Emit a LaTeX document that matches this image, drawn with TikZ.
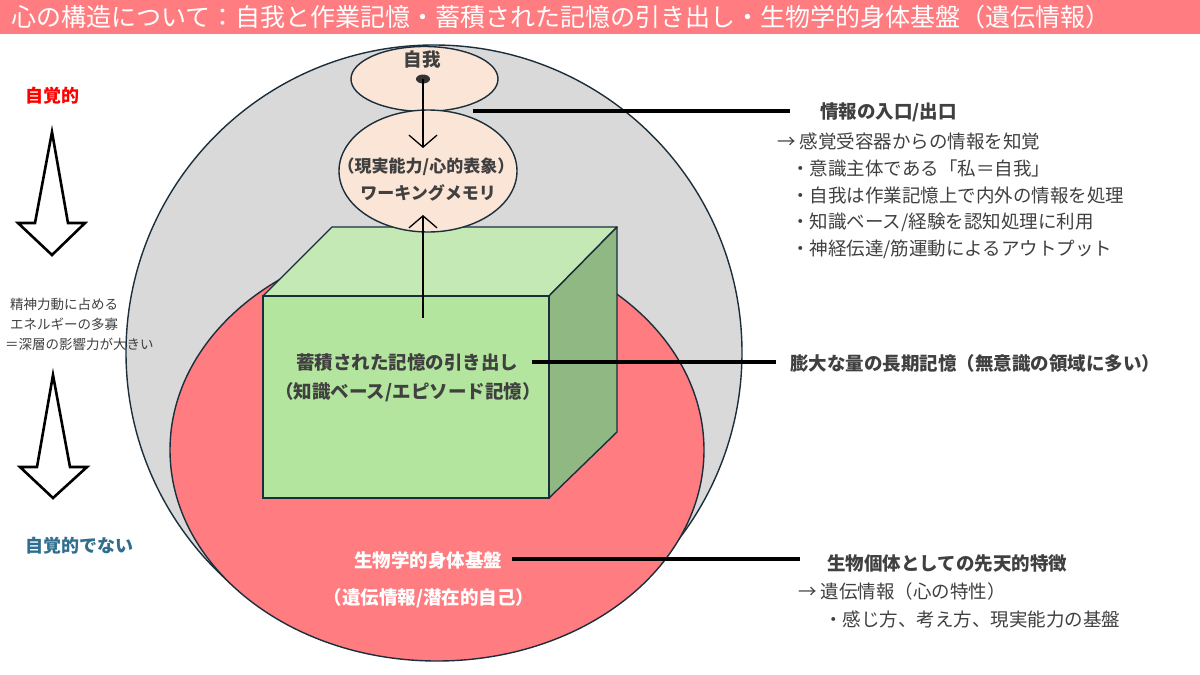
\documentclass[tikz,border=0pt]{standalone}
\usepackage{fontspec}
\setmainfont{Noto Sans CJK JP}
\usetikzlibrary{arrows.meta,shapes.geometric}
\definecolor{salmon}{HTML}{FF7C80}
\definecolor{grayfill}{HTML}{D9D9D9}
\definecolor{peach}{HTML}{FBE5D6}
\definecolor{edgec}{HTML}{1B2E3C}
\definecolor{gfront}{HTML}{B3E59F}
\definecolor{gtop}{HTML}{C4E9B4}
\definecolor{gside}{HTML}{90B882}
\definecolor{txt}{HTML}{404040}
\definecolor{blueish}{HTML}{2F6E8E}
\tikzset{
  outl/.style={draw=edgec, line width=1.4pt},
  leader/.style={draw=black, line width=4pt},
  flowarrow/.style={draw=black, line width=1.3pt, -{Straight Barb[length=12pt,width=28pt,line width=1.3pt]}},
  blockarrow/.style={draw=black, fill=white, line width=2.6pt, line join=miter},
  fs/.style={font=\fontsize{#1}{#1}\selectfont},
  lbl/.style={inner sep=0pt, text=txt, fs=18.5},
  lblb/.style={inner sep=0pt, text=txt, fs=18.5, font=\fontsize{18.5}{18.5}\selectfont\bfseries},
}
\begin{document}
\begin{tikzpicture}[x=1pt,y=-1pt]
\useasboundingbox (0,0) rectangle (1200,675);
\fill[white] (0,0) rectangle (1200,675);
% title bar
\fill[salmon] (0,0) rectangle (1200,34);
\node[inner sep=0pt, anchor=west, text=white, font=\fontsize{25}{25}\selectfont] (title) at (11,17)
  {心の構造について：自我と作業記憶・蓄積された記憶の引き出し・生物学的身体基盤（遺伝情報）};

% gray circle
\path[outl, fill=grayfill] (434,352.5) ellipse [x radius=308pt, y radius=307.5pt];
% red ellipse
\path[outl, fill=salmon] (437,450) ellipse [x radius=267pt, y radius=211pt];

% cube
\path[outl, fill=gtop, line join=round] (263,296) -- (332,227) -- (617,227) -- (549,296) -- cycle;
\path[outl, fill=gside, line join=round] (549,296) -- (617,227) -- (617,432) -- (549,498) -- cycle;
\path[outl, fill=gfront] (263,296) rectangle (549,498);

% ego ellipse and working memory ellipse
\path[outl, fill=peach] (424.5,79) ellipse [x radius=73.5pt, y radius=32.5pt];
\path[outl, fill=peach] (428,171) ellipse [x radius=89pt, y radius=61pt];

% texts in shapes
\node[lblb] (ego) at (422,59) {自我};
\fill[black!80] (423,79) ellipse [x radius=7pt, y radius=4.5pt];
\coordinate (egodot) at (423,79);
\coordinate (wmtop) at (423,148);
\node[lblb, font=\fontsize{17}{17}\selectfont\bfseries] (wm1) at (426,167) {（現実能力/心的表象）};
\node[lblb, font=\fontsize{17}{17}\selectfont\bfseries] (wm2) at (428,193) {ワーキングメモリ};
\coordinate (wmbot) at (423,215);
\coordinate (cubetop) at (423,318);
\draw[flowarrow] (egodot) -- (wmtop);
\draw[flowarrow] (cubetop) -- (wmbot);

\node[lblb] (mem1) at (407,363) {蓄積された記憶の引き出し};
\node[lblb] (mem2) at (408,392) {（知識ベース/エピソード記憶）};

\node[lblb, text=white] (bio1) at (428,560) {生物学的身体基盤};
\node[lblb, text=white] (bio2) at (429,598) {（遺伝情報/潜在的自己）};

% leaders
\coordinate (l1a) at (473,111);
\coordinate (l1b) at (790,111);
\draw[leader] (l1a) -- (l1b);
\coordinate (l2a) at (532,362);
\coordinate (l2b) at (776,362);
\draw[leader] (l2a) -- (l2b);
\coordinate (l3a) at (512,559);
\coordinate (l3b) at (800,559);
\draw[leader] (l3a) -- (l3b);

% right texts top
\node[lblb, anchor=west] (io) at (820,112) {情報の入口/出口};
\node[lbl, anchor=west] (r1) at (777,141) {→ 感覚受容器からの情報を知覚};
\node[lbl, anchor=west] (r2) at (791,168) {・意識主体である「私＝自我」};
\node[lbl, anchor=west] (r3) at (791,195) {・自我は作業記憶上で内外の情報を処理};
\node[lbl, anchor=west] (r4) at (791,222) {・知識ベース/経験を認知処理に利用};
\node[lbl, anchor=west] (r5) at (791,249) {・神経伝達/筋運動によるアウトプット};

% right text middle
\node[lblb, anchor=west] (ltm) at (790,363) {膨大な量の長期記憶（無意識の領域に多い）};

% right texts bottom
\node[lblb, anchor=west] (innate) at (827,563) {生物個体としての先天的特徴};
\node[lbl, anchor=west] (b1) at (798,591) {→ 遺伝情報（心の特性）};
\node[lbl, anchor=west] (b2) at (824,619) {・感じ方、考え方、現実能力の基盤};

% left side
\node[inner sep=0pt, anchor=west, text=red, font=\fontsize{18}{18}\selectfont\bfseries] (aware) at (25,96) {自覚的};
\node[inner sep=0pt, anchor=west, text=blueish, font=\fontsize{18}{18}\selectfont\bfseries] (unaware) at (25,546) {自覚的でない};
\node[inner sep=0pt, anchor=west, text=txt, font=\fontsize{13.5}{13.5}\selectfont] (e1) at (10,304) {精神力動に占める};
\node[inner sep=0pt, anchor=west, text=txt, font=\fontsize{13.5}{13.5}\selectfont] (e2) at (10,324) {エネルギーの多寡};
\node[inner sep=0pt, anchor=west, text=txt, font=\fontsize{13.5}{13.5}\selectfont] (e3) at (5,344) {＝深層の影響力が大きい};

\path[blockarrow] (52,132) -- (68,223) -- (85,223) -- (52,255) -- (18,223) -- (35,223) -- cycle;
\path[blockarrow] (53,375) -- (70,467) -- (87,467) -- (53,498) -- (20,467) -- (37,467) -- cycle;
\end{tikzpicture}
\end{document}
